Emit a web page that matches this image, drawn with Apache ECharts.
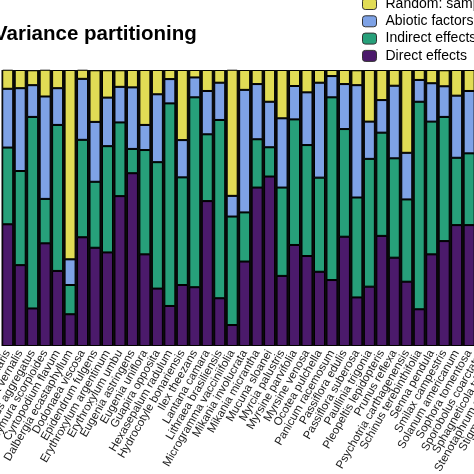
<!DOCTYPE html>
<html>
<head>
<meta charset="utf-8">
<script src="https://cdn.jsdelivr.net/npm/echarts@6/dist/echarts.min.js"></script>
<style>
  html, body { margin: 0; padding: 0; background: #fff; overflow: hidden; }
  /* the plot runs past the right edge of the picture, so the canvas is wider than the window */
  #chart { width: 540px; height: 474px; }
</style>
</head>
<body>
<div id="chart"></div>
<script>
// species on the x axis (the last four sit past the right edge of the picture)
const species = [
  "Baccharis singularis", "Cuphea vernalis", "Cyperus aggregatus", "Cyrtocymura scorpioides",
  "Cyrtopodium flavum", "Dalbergia ecastaphyllum", "Dodonaea viscosa", "Epidendrum fulgens",
  "Erythroxylum argentinum", "Erythroxylum umbu", "Eugenia astringens", "Eugenia uniflora",
  "Guapira opposita", "Hexasepalum radulum", "Hydrocotyle bonariensis", "Ilex theezans",
  "Lantana camara", "Lithraea brasiliensis", "Microgramma vacciniifolia", "Mikania involucrata",
  "Mikania micrantha", "Mucuna sloanei", "Myrcia palustris", "Myrsine parvifolia",
  "Myrsine venosa", "Ocotea pulchella", "Panicum racemosum", "Passiflora edulis",
  "Passiflora suberosa", "Paullinia trigonia", "Pleopeltis lepidopteris", "Prunus reflexa",
  "Psychotria carthagenensis", "Schinus terebinthifolia", "Senna pendula", "Smilax campestris",
  "Solanum americanum", "Sophora tomentosa", "Sporobolus coarctatus", "Sphagneticola trilobata",
  "Stenotaphrum secundatum", "Stigmaphyllon ciliatum"
];

// proportions of variance
const direct = [0.441, 0.293, 0.136, 0.372, 0.272, 0.115, 0.394, 0.356, 0.339, 0.543,
  0.626, 0.332, 0.208, 0.145, 0.221, 0.213, 0.525, 0.173, 0.076, 0.306,
  0.574, 0.614, 0.254, 0.366, 0.326, 0.269, 0.239, 0.396, 0.176, 0.215,
  0.399, 0.320, 0.233, 0.133, 0.332, 0.380, 0.438, 0.438, null, null, null, null];
const indirect = [0.278, 0.341, 0.694, 0.161, 0.529, 0.106, 0.353, 0.239, 0.385, 0.267,
  0.088, 0.378, 0.458, 0.734, 0.390, 0.688, 0.242, 0.646, 0.393, 0.178,
  0.175, 0.106, 0.320, 0.455, 0.402, 0.341, 0.662, 0.390, 0.362, 0.463,
  0.374, 0.360, 0.298, 0.752, 0.481, 0.450, 0.244, 0.260, null, null, null, null];
const abiotic = [0.213, 0.300, 0.115, 0.371, 0.133, 0.093, 0.221, 0.217, 0.176, 0.129,
  0.223, 0.091, 0.246, 0.088, 0.135, 0.072, 0.157, 0.135, 0.075, 0.444,
  0.200, 0.165, 0.251, 0.121, 0.191, 0.344, 0.077, 0.163, 0.407, 0.135,
  0.118, 0.263, 0.169, 0.079, 0.139, 0.111, 0.225, 0.226, null, null, null, null];
const random = [0.069, 0.066, 0.054, 0.097, 0.066, 0.686, 0.033, 0.187, 0.099, 0.060,
  0.063, 0.199, 0.088, 0.033, 0.254, 0.027, 0.076, 0.046, 0.457, 0.072,
  0.051, 0.115, 0.175, 0.058, 0.081, 0.046, 0.022, 0.051, 0.054, 0.187,
  0.109, 0.057, 0.300, 0.036, 0.048, 0.058, 0.093, 0.076, null, null, null, null];

const seriesNames = ["Direct effects", "Indirect effects", "Abiotic factors", "Random: sampling site"];
const seriesColors = ["#4b1a6b", "#27a07a", "#7ea2e6", "#e1dc55"];
const seriesData = [direct, indirect, abiotic, random];

let dom = document.getElementById("chart");
let myChart = echarts.init(dom, null, { renderer: "canvas" });

let option = {
  animation: false,
  title: {
    text: "Variance partitioning",
    left: -6,
    top: 24,
    padding: 0,
    textStyle: {
      fontFamily: "Liberation Sans",
      fontSize: 20.5,
      fontWeight: "bold",
      color: "#000",
    },
  },
  legend: {
    orient: "vertical",
    left: 362,
    top: -3,
    padding: 0,
    itemGap: 3.3,
    itemWidth: 14,
    itemHeight: 11,
    data: ["Random: sampling site", "Abiotic factors", "Indirect effects", "Direct effects"],
    itemStyle: { borderColor: "#333", borderWidth: 1 },
    textStyle: {
      fontFamily: "Liberation Sans",
      fontSize: 14,
      color: "#000",
      padding: [0, 0, 0, 4],
    },
  },
  grid: {
    show: true,
    left: 1.5,
    top: 70,
    width: 12.47 * species.length,
    height: 276,
    outerBoundsMode: "none",
    containLabel: false,
    backgroundColor: "#0b0b0b",
    borderWidth: 0,
  },
  xAxis: {
    type: "category",
    data: species,
    axisLine: { show: false },
    axisTick: { show: false },
    axisLabel: {
      interval: 0,
      rotate: 60,
      margin: 5,
      fontFamily: "Liberation Sans",
      fontSize: 11.5,
      color: "#1a1a1a",
    },
  },
  yAxis: {
    type: "value",
    min: 0,
    max: 1,
    show: false,
  },
  series: seriesNames.map((name, i) => ({
    name: name,
    type: "bar",
    stack: "total",
    barWidth: 11,
    data: seriesData[i],
    itemStyle: {
      color: seriesColors[i],
      borderColor: "#000",
      borderWidth: 1,
    },
  })),
};

myChart.setOption(option);
</script>
</body>
</html>
